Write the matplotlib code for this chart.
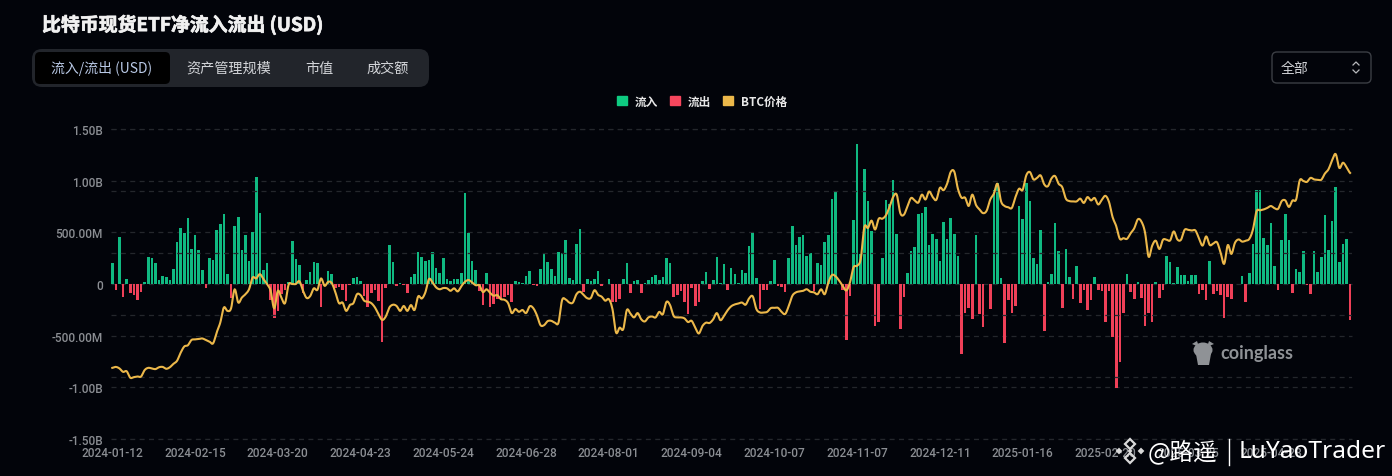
import numpy as np
import matplotlib.pyplot as plt
import matplotlib.patheffects as pe
from matplotlib.patches import FancyBboxPatch, Patch, Polygon, Ellipse

plt.rcParams['font.family'] = ['Noto Sans CJK SC', 'DejaVu Sans']

# net flow per trading day, million USD
flows = [
    203, -55, 455, -126, 45, -87, -106, -158, -81, 16,
    258, 248, 200, 39, 81, 68, 35, 145, 403, 542,
    494, 639, 339, 477, 329, 135, -35, 252, 232, 519,
    577, 674, 94, -139, 561, 648, 332, 474, 223, 506,
    1042, 684, 135, 200, -155, -326, -261, -97, -55, 16,
    416, 242, 184, -87, 39, 116, 213, 203, -223, 3,
    126, 94, -42, -29, -58, -165, -6, 61, 65, 32,
    -119, -219, -84, -55, -161, -565, -35, 377, 216, -16,
    13, -10, -87, 68, 100, 306, 258, 223, 235, 306,
    155, 106, 252, 45, 29, 48, 48, 106, 887, 490,
    219, 132, -65, -200, 103, -226, -190, -145, -152, -129,
    -106, -174, 29, 23, 13, 74, 129, -10, -16, 145,
    297, 216, 148, 81, 310, 303, 423, 55, 35, 384,
    529, -77, 45, 26, 52, 123, -16, 3, 52, -177,
    -171, -148, 45, 200, -90, 26, 39, -84, 13, 35,
    65, 87, 39, 65, 252, 200, -126, -106, -68, -174,
    -290, -39, -213, -174, 29, 116, -45, 39, 261, 13,
    190, -58, 158, 94, 6, 135, 106, 368, 494, 61,
    -242, -55, -55, 26, 232, -19, -29, -81, 252, 558,
    374, 458, 474, 274, 300, -65, 200, 187, 403, 474,
    829, 897, 3, -58, -539, -113, 623, 1361, 290, 1119,
    800, 510, -403, -371, 255, 813, 771, 1007, 484, -436,
    -123, 106, 319, 355, 677, 684, 748, 374, 484, 439,
    223, 597, 432, 639, 487, 271, -674, -277, -229, -339,
    474, -290, -413, 3, -242, 910, 977, 55, -568, -152,
    -284, -213, 755, 629, 977, 803, 252, 190, 519, -458,
    16, 94, 587, 319, -235, 339, 68, -142, 171, -187,
    -58, -248, -155, 71, -61, -65, -365, -65, -513, -1010,
    -755, -277, 97, -74, -145, 23, -132, -410, -281, -371,
    16, -132, -58, 274, 210, 13, 165, 84, 84, 29,
    90, 90, -94, -61, -158, 219, -97, -65, -103, -326,
    -126, -148, -3, 3, 77, -171, 106, 384, 913, 916,
    442, 381, 590, 174, -58, 426, 674, 426, -87, 145,
    116, 323, -6, -94, 319, 116, 261, 668, 329, 610,
    939, 213, 387, 435, -348,
]

# BTC price for the same days, thousand USD
btc_price = [
    42.9, 43.2, 42.7, 41.6, 41.8, 39.7, 39.9, 40.1, 40.1, 42.2,
    42.9, 42.7, 42.5, 43.1, 43.2, 42.6, 43.1, 44.2, 45.2, 47.8,
    49.8, 50.2, 51.9, 52.1, 52.2, 52.4, 51.9, 51.4, 50.8, 54.3,
    57.5, 62.4, 61.3, 62.1, 68.3, 64.0, 65.6, 66.7, 68.3, 72.1,
    71.8, 73.2, 71.6, 70.0, 67.8, 62.1, 67.8, 65.6, 63.8, 69.8,
    70.0, 70.0, 70.9, 67.8, 65.5, 66.1, 68.6, 68.1, 71.8, 69.4,
    70.7, 70.3, 67.3, 63.8, 64.0, 61.3, 63.2, 63.8, 66.7, 66.4,
    64.6, 64.3, 63.8, 62.4, 60.2, 58.4, 59.5, 62.4, 63.3, 62.9,
    61.3, 62.9, 61.3, 63.2, 61.6, 66.0, 65.3, 67.3, 71.6, 70.5,
    68.9, 68.3, 68.7, 68.6, 67.8, 68.6, 67.6, 69.3, 70.7, 71.3,
    70.5, 69.6, 69.6, 67.4, 68.3, 67.1, 66.2, 66.4, 65.1, 64.9,
    63.8, 60.6, 61.9, 61.0, 61.6, 60.6, 62.8, 62.2, 59.9, 56.7,
    56.7, 58.0, 58.1, 57.5, 57.5, 64.8, 65.0, 64.0, 64.0, 66.7,
    67.5, 66.4, 65.4, 65.5, 68.0, 66.5, 65.9, 64.6, 65.1, 61.9,
    54.3, 55.9, 55.4, 61.6, 60.4, 59.2, 60.6, 58.6, 57.9, 59.2,
    59.5, 59.2, 61.0, 60.2, 64.2, 63.2, 59.7, 59.2, 59.2, 58.9,
    57.7, 58.1, 55.9, 54.0, 56.4, 57.5, 57.4, 58.6, 60.6, 58.3,
    59.7, 61.5, 62.8, 63.4, 63.7, 64.0, 63.3, 65.4, 66.0, 61.9,
    60.8, 60.8, 61.0, 62.2, 62.3, 62.3, 61.0, 60.3, 62.9, 66.2,
    67.3, 67.6, 67.8, 68.3, 67.5, 67.3, 66.7, 68.3, 66.7, 70.5,
    72.9, 72.5, 71.1, 69.4, 67.9, 70.5, 75.4, 75.9, 78.1, 88.4,
    88.1, 90.5, 87.6, 91.1, 91.1, 92.2, 94.9, 98.1, 98.9, 92.9,
    92.4, 95.2, 97.8, 97.0, 96.3, 98.9, 97.3, 99.9, 98.1, 97.2,
    101.1, 100.3, 102.4, 106.2, 106.3, 100.8, 97.9, 97.9, 95.2, 98.9,
    95.6, 94.1, 92.9, 93.7, 97.3, 99.2, 102.4, 96.7, 95.2, 94.8,
    94.6, 98.1, 100.8, 100.4, 105.1, 106.2, 103.8, 104.3, 105.1, 102.2,
    101.6, 104.1, 104.9, 102.4, 101.3, 97.6, 96.8, 96.7, 96.7, 97.6,
    96.2, 98.1, 97.0, 97.8, 95.7, 97.2, 98.5, 96.5, 91.6, 88.7,
    84.6, 84.8, 84.6, 86.4, 88.0, 90.9, 90.2, 86.7, 78.8, 82.4,
    84.0, 81.3, 84.3, 84.3, 84.1, 87.0, 84.4, 84.3, 87.5, 87.5,
    87.3, 87.3, 84.8, 82.4, 85.4, 82.6, 83.1, 83.5, 80.2, 76.5,
    82.6, 79.7, 83.3, 84.4, 83.7, 84.0, 84.6, 87.6, 93.5, 93.8,
    94.1, 94.6, 95.2, 94.5, 94.3, 96.8, 97.0, 94.9, 97.0, 97.3,
    103.5, 103.3, 103.0, 104.3, 103.8, 103.7, 103.7, 105.7, 107.1, 110.0,
    112.0, 107.5, 109.2, 107.8, 105.9,
]

date_labels = ['2024-01-12', '2024-02-15', '2024-03-20', '2024-04-23', '2024-05-24',
               '2024-06-28', '2024-08-01', '2024-09-04', '2024-10-07', '2024-11-07',
               '2024-12-11', '2025-01-16', '2025-02-20', '2025-03-25', '2025-04-28']
flow_ticks = [-1500, -1000, -500, 0, 500, 1000, 1500]
flow_labels = ['-1.50B', '-1.00B', '-500.00M', '0', '500.00M', '1.00B', '1.50B']
price_ticks = [20, 40, 60, 80, 100, 120]
tabs = ['资产管理规模', '市值', '成交额']

BG = '#02040a'
GREEN = '#10b981'
RED = '#ef4058'
GOLD = '#ecb84a'
GRID = '#24272c'
GREY = '#8b8e93'

W, H = 1392, 477
fig = plt.figure(figsize=(W / 100, H / 100), dpi=100, facecolor=BG)

# plot area in pixels: x 110.5-1351.9, y 130.3-439.7
left, right, top, bottom = 110.5, 1351.9, 130.3, 439.7
ax = fig.add_axes([left / W, 1 - bottom / H, (right - left) / W, (bottom - top) / H], facecolor=BG)

x = np.arange(len(flows))
flow_arr = np.array(flows)
colors = [GREEN if v >= 0 else RED for v in flow_arr]
ax.bar(x, flow_arr, width=0.72, color=colors, zorder=3)
ax.set_xlim(-0.5, len(flows) - 0.5)
ax.set_ylim(-1500, 1500)
ax.set_yticks(flow_ticks)
ax.set_yticklabels(flow_labels, family=['Roboto', 'DejaVu Sans'], fontsize=8.5, color=GREY, fontweight='medium')
ax.set_xticks(x[::23])
ax.set_xticklabels(date_labels, family=['Roboto', 'DejaVu Sans'], fontsize=8.6, color=GREY, fontweight='medium')
ax.tick_params(axis='y', length=0, pad=5.5)
ax.tick_params(axis='x', length=0, pad=5)
ax.grid(axis='y', color=GRID, linestyle=(0, (4, 3.5)), linewidth=0.9, zorder=0)
ax.set_axisbelow(True)
for s in ax.spines.values():
    s.set_visible(False)
for gl in ax.get_ygridlines():
    gl.set_clip_on(False)


# rounds the line between the daily values, the way the page's chart does
def rounded(xs, ys, steps=6):
    xs = np.asarray(xs, dtype=float)
    ys = np.asarray(ys, dtype=float)
    p = np.concatenate(([ys[0]], ys, [ys[-1]]))
    t = np.linspace(0, 1, steps, endpoint=False)[:, None]
    p0, p1, p2, p3 = p[:-3], p[1:-2], p[2:-1], p[3:]
    curve = 0.5 * (2 * p1 + (p2 - p0) * t + (2 * p0 - 5 * p1 + 4 * p2 - p3) * t ** 2
                   + (3 * p1 - p0 - 3 * p2 + p3) * t ** 3)
    xx = xs[:-1] + t * (xs[1:] - xs[:-1])
    return np.append(xx.T.ravel(), xs[-1]), np.append(curve.T.ravel(), ys[-1])


# BTC price has its own hidden axis, with its own grid lines
ax2 = ax.twinx()
line_x, line_y = rounded(x, btc_price)
ax2.plot(line_x, line_y, color=GOLD, linewidth=1.5, solid_joinstyle='round', zorder=4)
ax2.set_ylim(20, 120)
ax2.set_yticks(price_ticks)
ax2.set_yticklabels([])
ax2.tick_params(length=0)
ax2.grid(axis='y', color=GRID, linestyle=(0, (4, 3.5)), linewidth=0.9)
ax2.set_axisbelow(True)
for s in ax2.spines.values():
    s.set_visible(False)

# everything around the chart, in pixel coordinates
ui = fig.add_axes([0, 0, 1, 1])
ui.set_xlim(0, W)
ui.set_ylim(H, 0)
ui.axis('off')

ui.text(42, 26, '比特币现货ETF净流入流出 (USD)', color='#f0f0f0', fontsize=13.6,
        fontweight='bold', va='center', ha='left',
        path_effects=[pe.withStroke(linewidth=0.5, foreground='#f0f0f0')])


def rbox(x0, y0, w, h, r, **kw):
    ui.add_patch(FancyBboxPatch((x0 + r, y0 + r), w - 2 * r, h - 2 * r,
                                boxstyle='round,pad=%s,rounding_size=%s' % (r, r), **kw))


rbox(32, 50, 397, 38, 10, facecolor='#22252b', edgecolor='none')
rbox(35, 53, 135, 32, 5, facecolor='#000000', edgecolor='none')
ui.text(102, 69, '流入/流出 (USD)', color='#b9c9e6', fontsize=10, ha='center', va='center')
for label, cx in zip(tabs, [229, 319, 388]):
    ui.text(cx, 69, label, color='#d2d4d8', fontsize=10.2, ha='center', va='center')

rbox(1272, 53, 99, 31, 5, facecolor='none', edgecolor='#3b3e44', linewidth=1)
ui.text(1281, 69, '全部', color='#d2d4d8', fontsize=10, ha='left', va='center')
ui.plot([1353, 1356, 1359], [66, 63, 66], color='#b8babd', lw=0.9)
ui.plot([1353, 1356, 1359], [71, 74, 71], color='#b8babd', lw=0.9)

handles = [Patch(color='#0ecb81'), Patch(color='#f6465d'), Patch(color=GOLD)]
ui.legend(handles, ['流入', '流出', 'BTC价格'], loc='center', bbox_to_anchor=(702, 102),
          bbox_transform=ui.transData, ncol=3, frameon=False, handlelength=0.85,
          handleheight=0.85, handletextpad=0.68, columnspacing=1.0,
          prop={'size': 8.4, 'weight': 'bold'}, labelcolor='#e8e8e8')

# coinglass mark
LOGO = '#8f9296'
ui.add_patch(Ellipse((1203, 351), 19, 15, color=LOGO, lw=0))
ui.add_patch(Polygon([[1196, 355], [1211, 355], [1209, 366], [1198, 366]], color=LOGO, lw=0))
ui.add_patch(Polygon([[1192, 345], [1197, 342], [1199, 348]], color=LOGO, lw=0))
ui.add_patch(Polygon([[1214, 345], [1209, 342], [1207, 348]], color=LOGO, lw=0))
ui.text(1220, 354, 'coinglass', color=LOGO, fontsize=13, fontweight='bold',
        family=['Lato', 'DejaVu Sans'], va='center', ha='left')

# repost watermark over the x axis
MARK = '#d9d9d9'
for cx, cy, s in [(1130, 445, 5), (1130, 459, 5), (1119, 452, 1.8), (1141, 452, 1.8)]:
    ui.add_patch(Polygon([[cx - s, cy], [cx, cy - s], [cx + s, cy], [cx, cy + s]],
                         facecolor='none' if s > 2 else MARK, edgecolor=MARK, lw=1.6))
ui.add_patch(Polygon([[1127.5, 452], [1130, 449.5], [1132.5, 452], [1130, 454.5]], color=MARK, lw=0))
ui.text(1148, 452, '@路遥', color='white', fontsize=17, va='center', ha='left')
ui.plot([1228.5, 1228.5], [440, 466], color='white', lw=1)
ui.text(1239, 452, 'LuYaoTrader', color='white', fontsize=17.6, va='center', ha='left',
        family=['Noto Sans', 'DejaVu Sans'])

fig.savefig('out.png', dpi=100, facecolor=BG)
